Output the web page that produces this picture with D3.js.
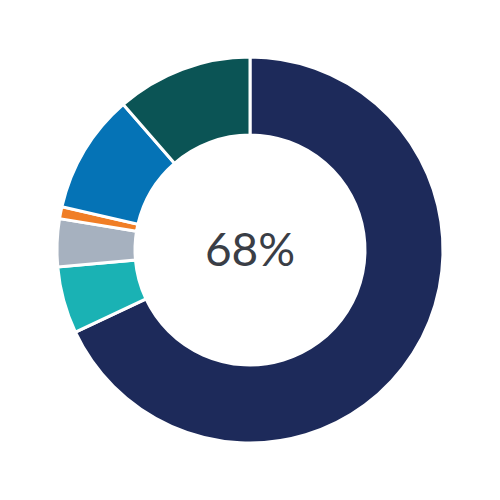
<!DOCTYPE html>
<html>
<head>
<meta charset="utf-8">
<script src="https://cdn.jsdelivr.net/npm/d3@7"></script>
<style>
  body { margin: 0; background: #fff; }
</style>
</head>
<body>
<div id="chart"></div>
<script>
// slice values, clockwise from 12 o'clock
var categories = ["A", "B", "C", "D", "E", "F"];
var values = [68, 5.6, 4, 1, 10, 11.4];
var colors = ["#1d2a5a", "#1ab2b4", "#a6b1bf", "#f07e26", "#0573b6", "#0b5455"];
var centerLabel = "68%";

var width = 500, height = 500;
var outer = 193, inner = 115;

var svg = d3.select("#chart").append("svg")
    .attr("width", width)
    .attr("height", height);

var g = svg.append("g")
    .attr("transform", "translate(250,250)");

var pie = d3.pie().sort(null).value(function(d) { return d; });
var arc = d3.arc().innerRadius(inner).outerRadius(outer);

g.selectAll("path")
    .data(pie(values))
    .enter().append("path")
    .attr("d", arc)
    .attr("fill", function(d, i) { return colors[i]; })
    .attr("stroke", "#fff")
    .attr("stroke-width", 3);

// center text
g.append("text")
    .attr("text-anchor", "middle")
    .attr("y", 16)
    .attr("font-family", "Lato, 'Open Sans', sans-serif")
    .attr("font-weight", 400)
    .attr("font-size", 46)
    .attr("fill", "#3a3e46")
    .text(centerLabel);
</script>
</body>
</html>
